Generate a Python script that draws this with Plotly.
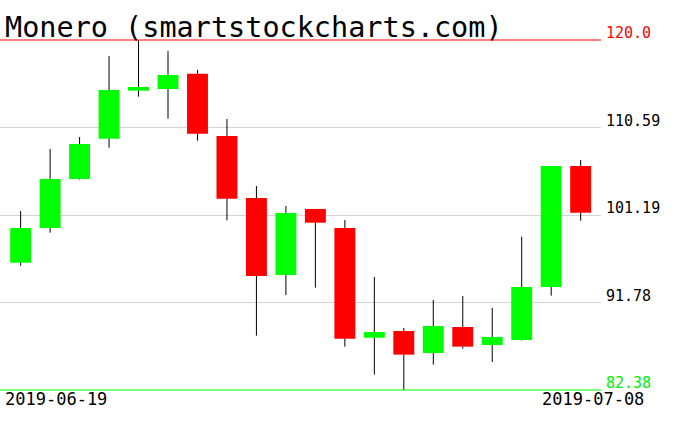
import plotly.graph_objects as go

# daily candles, Monero
dates = ["2019-06-19", "2019-06-20", "2019-06-21", "2019-06-22", "2019-06-23",
         "2019-06-24", "2019-06-25", "2019-06-26", "2019-06-27", "2019-06-28",
         "2019-06-29", "2019-06-30", "2019-07-01", "2019-07-02", "2019-07-03",
         "2019-07-04", "2019-07-05", "2019-07-06", "2019-07-07", "2019-07-08"]
open_ = [96.06, 99.79, 105.06, 109.39, 114.55, 114.73, 116.38, 109.68, 103.02, 94.74,
         101.84, 99.79, 88.00, 88.72, 86.36, 89.15, 87.22, 87.76, 93.45, 106.46]
high = [101.62, 108.28, 109.57, 118.28, 120.00, 118.82, 116.78, 111.51, 104.31, 102.16,
        101.84, 100.65, 94.53, 89.05, 92.06, 92.48, 91.20, 98.86, 106.46, 107.10]
low = [95.74, 99.29, 105.00, 108.42, 113.91, 111.54, 109.18, 100.62, 88.22, 92.59,
       93.38, 87.04, 84.03, 82.38, 85.10, 86.82, 85.39, 87.70, 92.52, 100.58]
close = [99.79, 105.06, 108.82, 114.63, 114.95, 116.24, 109.93, 102.94, 94.63, 101.41,
         100.36, 87.90, 88.62, 86.18, 89.26, 87.04, 88.08, 93.45, 106.46, 101.44]

levels = [120.0, 110.59, 101.19, 91.78, 82.38]
level_text = ["120.0", "110.59", "101.19", "91.78", "82.38"]
level_color = ["#ff0000", "black", "black", "black", "#00ee00"]

title = "Monero (smartstockcharts.com)"
mono = "DejaVu Sans Mono"

# wicks: upper and lower pieces so the body is not crossed
wx, wy = [], []
for d, o, h, l, c in zip(dates, open_, high, low, close):
    top, bot = max(o, c), min(o, c)
    wx += [d, d, None, d, d, None]
    wy += [h, top, None, bot, l, None]

body_base = [min(o, c) for o, c in zip(open_, close)]
body_len = [abs(c - o) for o, c in zip(open_, close)]
body_col = ["#00ff00" if c >= o else "#ff0000" for o, c in zip(open_, close)]

fig = go.Figure()
fig.add_trace(go.Scatter(x=wx, y=wy, mode="lines",
                         line=dict(color="black", width=1), hoverinfo="skip"))
fig.add_trace(go.Bar(x=dates, y=body_len, base=body_base, width=0.71,
                     marker=dict(color=body_col, line=dict(width=0))))

fig.add_hline(y=levels[0], line=dict(color="#ff0000", width=1))
fig.add_hline(y=levels[-1], line=dict(color="#00ff00", width=1))

for v, t, col in zip(levels, level_text, level_color):
    fig.add_annotation(x=1, xref="paper", y=v, yref="y", text=t, showarrow=False,
                       xanchor="left", yanchor="bottom", xshift=3, yshift=-4,
                       font=dict(family=mono, size=15, color=col))

fig.add_annotation(x=0, xref="paper", y=0, yref="paper", text=dates[0],
                   showarrow=False, xanchor="left", yanchor="top", xshift=3, yshift=4,
                   font=dict(family=mono, size=17, color="black"))
fig.add_annotation(x=1.075, xref="paper", y=0, yref="paper", text=dates[-1],
                   showarrow=False, xanchor="right", yanchor="top", yshift=4,
                   font=dict(family=mono, size=17, color="black"))
fig.add_annotation(x=0, xref="paper", y=1, yref="paper", text=title,
                   showarrow=False, xanchor="left", yanchor="bottom",
                   xshift=3, yshift=-7,
                   font=dict(family=mono, size=28.5, color="black"))

fig.update_layout(width=676, height=431, showlegend=False,
                  margin=dict(l=0, r=75, t=39, b=40),
                  plot_bgcolor="white", paper_bgcolor="white",
                  hovermode=False)
fig.update_xaxes(type="category", range=[-0.7, 19.69], showgrid=False,
                 showticklabels=False, zeroline=False, showline=False)
fig.update_yaxes(range=[82.273, 120.107], tickvals=levels[1:-1],
                 showticklabels=False, gridcolor="#d3d3d3", gridwidth=1,
                 zeroline=False, showline=False)

fig.write_html("out.html", config={"displayModeBar": False},
               post_script="document.body.style.margin='0px';")
